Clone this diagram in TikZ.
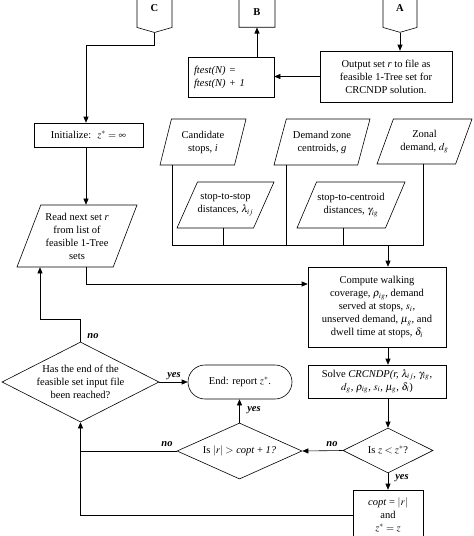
\documentclass[tikz,border=0pt]{standalone}
\usepackage{mathptmx}
\usepackage[no-math]{fontspec}
\setmainfont{Liberation Serif}
\usetikzlibrary{shapes.geometric,shapes.symbols,arrows.meta}

\begin{document}
\begin{tikzpicture}[x=1pt,y=-1pt,line width=0.6pt,
        font=\fontsize{10.5}{13}\selectfont,
        box/.style={draw,rectangle,align=center,inner sep=2pt},
        para/.style 2 args={draw,trapezium,trapezium stretches body,inner xsep=0pt,
            trapezium left angle=#1,trapezium right angle=#2},
        dia/.style={draw,diamond,inner sep=0pt},
        conn/.style={draw,signal,inner sep=0pt,font=\bfseries\fontsize{10.5}{12}\selectfont},
        arr/.style={-{Triangle[length=6pt,width=5pt]}},
        lbl/.style={font=\bfseries\itshape\fontsize{10.5}{12}\selectfont}]
    \useasboundingbox (0,0) rectangle (474,536);
    %off-page connectors
    \node[conn, signal to=south, signal from=nowhere, signal pointer angle=148,
        minimum width=35pt, minimum height=40pt] (C) at (154.5,8) {C};
    \node[conn, signal to=north, signal from=nowhere, signal pointer angle=132,
        minimum width=36pt, minimum height=32pt] (B) at (257,12) {B};
    \node[conn, signal to=south, signal from=nowhere, signal pointer angle=148,
        minimum width=34pt, minimum height=40pt] (A) at (400,8) {A};
    %boxes at the top
    \node[box, minimum width=132pt, minimum height=51pt] (out) at (386,76.5)
        {Output set \textit{r} to file as\\feasible 1-Tree set for\\CRCNDP solution.};
    \node[box, align=left, text width=74pt, inner xsep=6pt, minimum height=40pt] (ftest) at (231,77)
        {\textit{ftest(N) =}\\\textit{ftest(N) + 1}};
    \node[box, minimum width=109pt, minimum height=24pt] (init) at (88.5,135)
        {Initialize:~ $z^* = \infty$};
    %input data
    \node[para={76}{104}, minimum width=86pt, inner ysep=23pt,
        label={[align=center]center:{Candidate\\stops, \textit{i}}}] (cand) at (203,142) {};
    \node[para={75}{105}, minimum width=96pt, inner ysep=23pt,
        label={[align=center]center:{Demand zone\\centroids, \textit{g}}}] (dzc) at (322,142) {};
    \node[para={70}{110}, minimum width=95pt, inner ysep=22.5pt,
        label={[align=center]center:{Zonal\\demand, $d_g$}}] (zonal) at (424.5,141.5) {};
    \node[para={66}{114}, minimum width=97pt, inner ysep=23pt,
        label={[align=center]center:{stop-to-stop\\distances, $\lambda_{ij}$}}] (sts) at (225.5,205) {};
    \node[para={67}{113}, minimum width=108pt, inner ysep=23pt,
        label={[align=center]center:{stop-to-centroid\\distances, $\gamma_{ig}$}}] (stc) at (351,205) {};
    \node[para={69}{111}, minimum width=120pt, inner ysep=31pt,
        label={[align=center]center:{Read next set \textit{r}\\from list of\\feasible 1-Tree\\sets}}] (read) at (77,236) {};
    %main loop
    \node[box, minimum width=138pt, minimum height=80pt] (comp) at (377,307)
        {Compute walking\\coverage, $\rho_{ig}$, demand\\served at stops, $s_i$,\\unserved demand, $\mu_g$, and\\dwell time at stops, $\delta_i$};
    \node[box, minimum width=138pt, minimum height=33pt] (solve) at (377,381.5)
        {Solve \textit{CRCNDP(r,} $\lambda_{ij}$, $\gamma_{ig}$,\\$d_g$, $\rho_{ig}$, $s_i$, $\mu_g$, $\delta_i$)};
    \node[dia, minimum width=90pt, minimum height=45pt,
        label={center:Is $z < z^*$?}] (isz) at (388,450.5) {};
    \node[dia, minimum width=125pt, minimum height=56pt,
        label={center:Is $|r| >$ \textit{copt} + \textit{1?}}] (isr) at (239.5,451) {};
    \node[dia, minimum width=157pt, minimum height=80pt,
        label={[align=center]center:{Has the end of the\\feasible set input file\\been reached?}}] (endq) at (80.5,382) {};
    \node[box, rounded corners=17pt, minimum width=104pt, minimum height=34pt] (end) at (240,382)
        {End: report $z^*$.};
    \node[box, minimum width=70pt, minimum height=50pt] (copt) at (388,515)
        {\textit{copt} = $|r|$\\and\\$z^* = z$};
    %yes / no
    \node[lbl] (no1) at (93,336) {no};
    \node[lbl] (yes1) at (174,376) {yes};
    \node[lbl] (yes2) at (254,410) {yes};
    \node[lbl] (no2) at (167,444) {no};
    \node[lbl] (no3) at (332,444) {no};
    \node[lbl] (yes3) at (402,478) {yes};
    %turning points
    \coordinate (c1) at (86,45);
    \coordinate (rd) at (86,284);
    \coordinate (r1) at (40,319);
    \coordinate (bus) at (388,245);
    \coordinate (b1) at (172,245);
    \coordinate (b2) at (223,245);
    \coordinate (b3) at (286,245);
    \coordinate (b4) at (343,245);
    \coordinate (b5) at (423,245);
    %connectors
    \draw[arr] (C.south) |- (c1) -- (c1 |- init.north);
    \draw[arr] (c1 |- init.south) -- (c1 |- read.north);
    \draw[arr] (A.south) -- (A.south |- out.north);
    \draw[arr] (out.west) -- (out.west -| ftest.east);
    \draw[arr] (B.south |- ftest.north) -- (B.south);
    \draw (b1 |- cand.south) -- (b1) -- (b5) -- (b5 |- zonal.south);
    \draw (b2 |- sts.south) -- (b2);
    \draw (b3 |- dzc.south) -- (b3);
    \draw (b4 |- stc.south) -- (b4);
    \draw[arr] (bus) -- (bus |- comp.north);
    \draw[arr] (read.south -| rd) -- (rd) -- (rd -| comp.west);
    \draw[arr] (bus |- comp.south) -- (bus |- solve.north);
    \draw[arr] (isz.north |- solve.south) -- (isz.north);
    \draw[arr] (isz.south) -- (copt.north);
    \draw[arr] (isz.west) -- (isr.east);
    \draw[arr] (isr.north) -- (isr.north |- end.south);
    \draw[arr] (endq.east) -- (endq.east -| end.west);
    \draw[arr] (endq.north) |- (r1) -- (r1 |- read.south);
    \draw[arr] (isr.west) -| (endq.south);
    \draw (copt.west) -| (endq.south |- isr.west);
\end{tikzpicture}
\end{document}
